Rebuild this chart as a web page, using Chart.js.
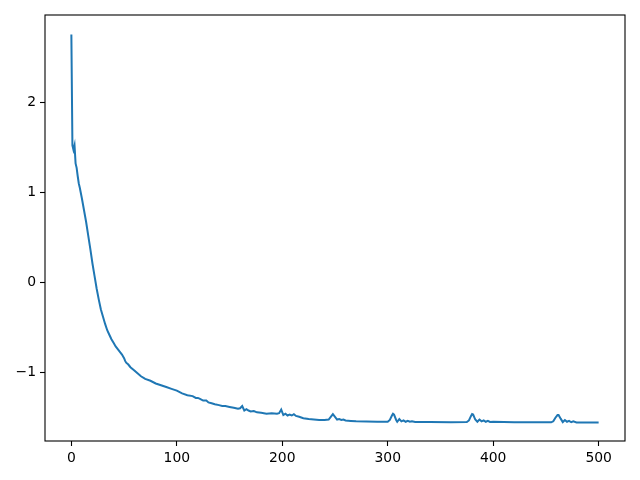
<!DOCTYPE html>
<html>
<head>
<meta charset="utf-8">
<script src="https://cdn.jsdelivr.net/npm/chart.js@4.4.1/dist/chart.umd.min.js"></script>
<style>
  html, body { margin: 0; padding: 0; background: #fff; }
  canvas { display: block; }
</style>
</head>
<body>
<canvas id="chart" width="640" height="480"></canvas>
<script>
// valores leídos a ojo de la figura
const steps = [0, 1, 2, 3, 4, 5, 6, 7, 8, 10, 12, 14, 16, 18, 20, 22, 24, 26, 28, 30,
  32, 34, 36, 38, 40, 42, 44, 46, 48, 50, 51, 52, 54, 56, 58, 60, 63, 66, 70, 75,
  80, 85, 90, 95, 100, 105, 110, 115, 118, 120, 122, 125, 128, 130, 133, 136, 140, 143, 146, 150,
  154, 158, 160, 162, 164, 166, 168, 170, 173, 176, 180, 185, 190, 195, 197, 199, 201, 203, 205, 207,
  209, 211, 213, 216, 220, 225, 230, 235, 240, 244, 246, 248, 250, 252, 254, 256, 258, 260, 265, 270,
  280, 290, 300, 302, 304, 305, 306, 308, 309, 311, 313, 315, 317, 319, 321, 323, 326, 340, 360, 375,
  377, 379, 380, 381, 383, 385, 387, 389, 391, 393, 395, 397, 400, 420, 440, 455, 457, 459, 461, 462,
  464, 466, 468, 470, 472, 474, 476, 479, 490, 500];
const loss = [2.75, 1.52, 1.47, 1.52, 1.32, 1.27, 1.18, 1.10, 1.05, 0.93, 0.80, 0.67, 0.52, 0.37, 0.21, 0.07, -0.07, -0.19, -0.30, -0.38,
  -0.46, -0.53, -0.58, -0.63, -0.67, -0.71, -0.74, -0.77, -0.80, -0.84, -0.87, -0.89, -0.91, -0.94, -0.96, -0.98, -1.01, -1.04, -1.07, -1.09,
  -1.12, -1.14, -1.16, -1.18, -1.20, -1.23, -1.25, -1.26, -1.28, -1.28, -1.29, -1.31, -1.31, -1.33, -1.34, -1.35, -1.36, -1.37, -1.37, -1.38,
  -1.39, -1.40, -1.395, -1.37, -1.42, -1.405, -1.42, -1.43, -1.425, -1.44, -1.445, -1.455, -1.45, -1.455, -1.45, -1.41, -1.47, -1.455, -1.475, -1.465,
  -1.475, -1.46, -1.48, -1.49, -1.505, -1.515, -1.52, -1.525, -1.525, -1.52, -1.49, -1.46, -1.49, -1.52, -1.515, -1.525, -1.52, -1.53, -1.535, -1.54,
  -1.542, -1.545, -1.545, -1.525, -1.475, -1.455, -1.465, -1.525, -1.545, -1.515, -1.54, -1.53, -1.545, -1.535, -1.545, -1.54, -1.548, -1.548, -1.549, -1.548,
  -1.53, -1.48, -1.46, -1.465, -1.52, -1.545, -1.52, -1.54, -1.53, -1.545, -1.535, -1.547, -1.545, -1.55, -1.551, -1.551, -1.54, -1.50, -1.47, -1.47,
  -1.51, -1.548, -1.525, -1.545, -1.535, -1.55, -1.54, -1.552, -1.553, -1.553];

const xTicks = [0, 100, 200, 300, 400, 500];
const yTicks = [-1, 0, 1, 2];

const font = { family: 'DejaVu Sans', size: 13.9 };
const minus = v => String(v).replace('-', '\u2212');

// marco completo alrededor del área (como matplotlib)
const frame = {
  id: 'frame',
  afterDraw(c) {
    const a = c.chartArea, g = c.ctx;
    g.save();
    g.strokeStyle = '#000';
    g.lineWidth = 1.1;
    g.strokeRect(a.left, a.top, a.right - a.left, a.bottom - a.top);
    g.restore();
  }
};

const ctx = document.getElementById('chart');
new Chart(ctx, {
  type: 'line',
  data: {
    datasets: [{
      data: steps.map((s, i) => ({ x: s, y: loss[i] })),
      borderColor: '#1f77b4',
      borderWidth: 2,
      pointRadius: 0,
      tension: 0,
      fill: false
    }]
  },
  options: {
    responsive: false,
    animation: false,
    layout: { padding: { top: 15, right: 15, left: 0, bottom: 0 } },
    plugins: { legend: { display: false }, tooltip: { enabled: false } },
    scales: {
      x: {
        type: 'linear', min: -25, max: 525,
        afterBuildTicks: s => { s.ticks = xTicks.map(v => ({ value: v })); },
        afterFit: s => { s.height = 39; },
        grid: { drawOnChartArea: false, tickLength: 5, tickColor: '#000', tickWidth: 1.1 },
        border: { display: false },
        ticks: { color: '#000', font, padding: 4, maxRotation: 0, callback: v => minus(v) }
      },
      y: {
        type: 'linear', min: -1.758, max: 2.965,
        afterBuildTicks: s => { s.ticks = yTicks.map(v => ({ value: v })); },
        afterFit: s => { s.width = 45; },
        grid: { drawOnChartArea: false, tickLength: 5, tickColor: '#000', tickWidth: 1.1 },
        border: { display: false },
        ticks: { color: '#000', font, padding: 4, callback: v => minus(v) }
      }
    }
  },
  plugins: [frame]
});
</script>
</body>
</html>
